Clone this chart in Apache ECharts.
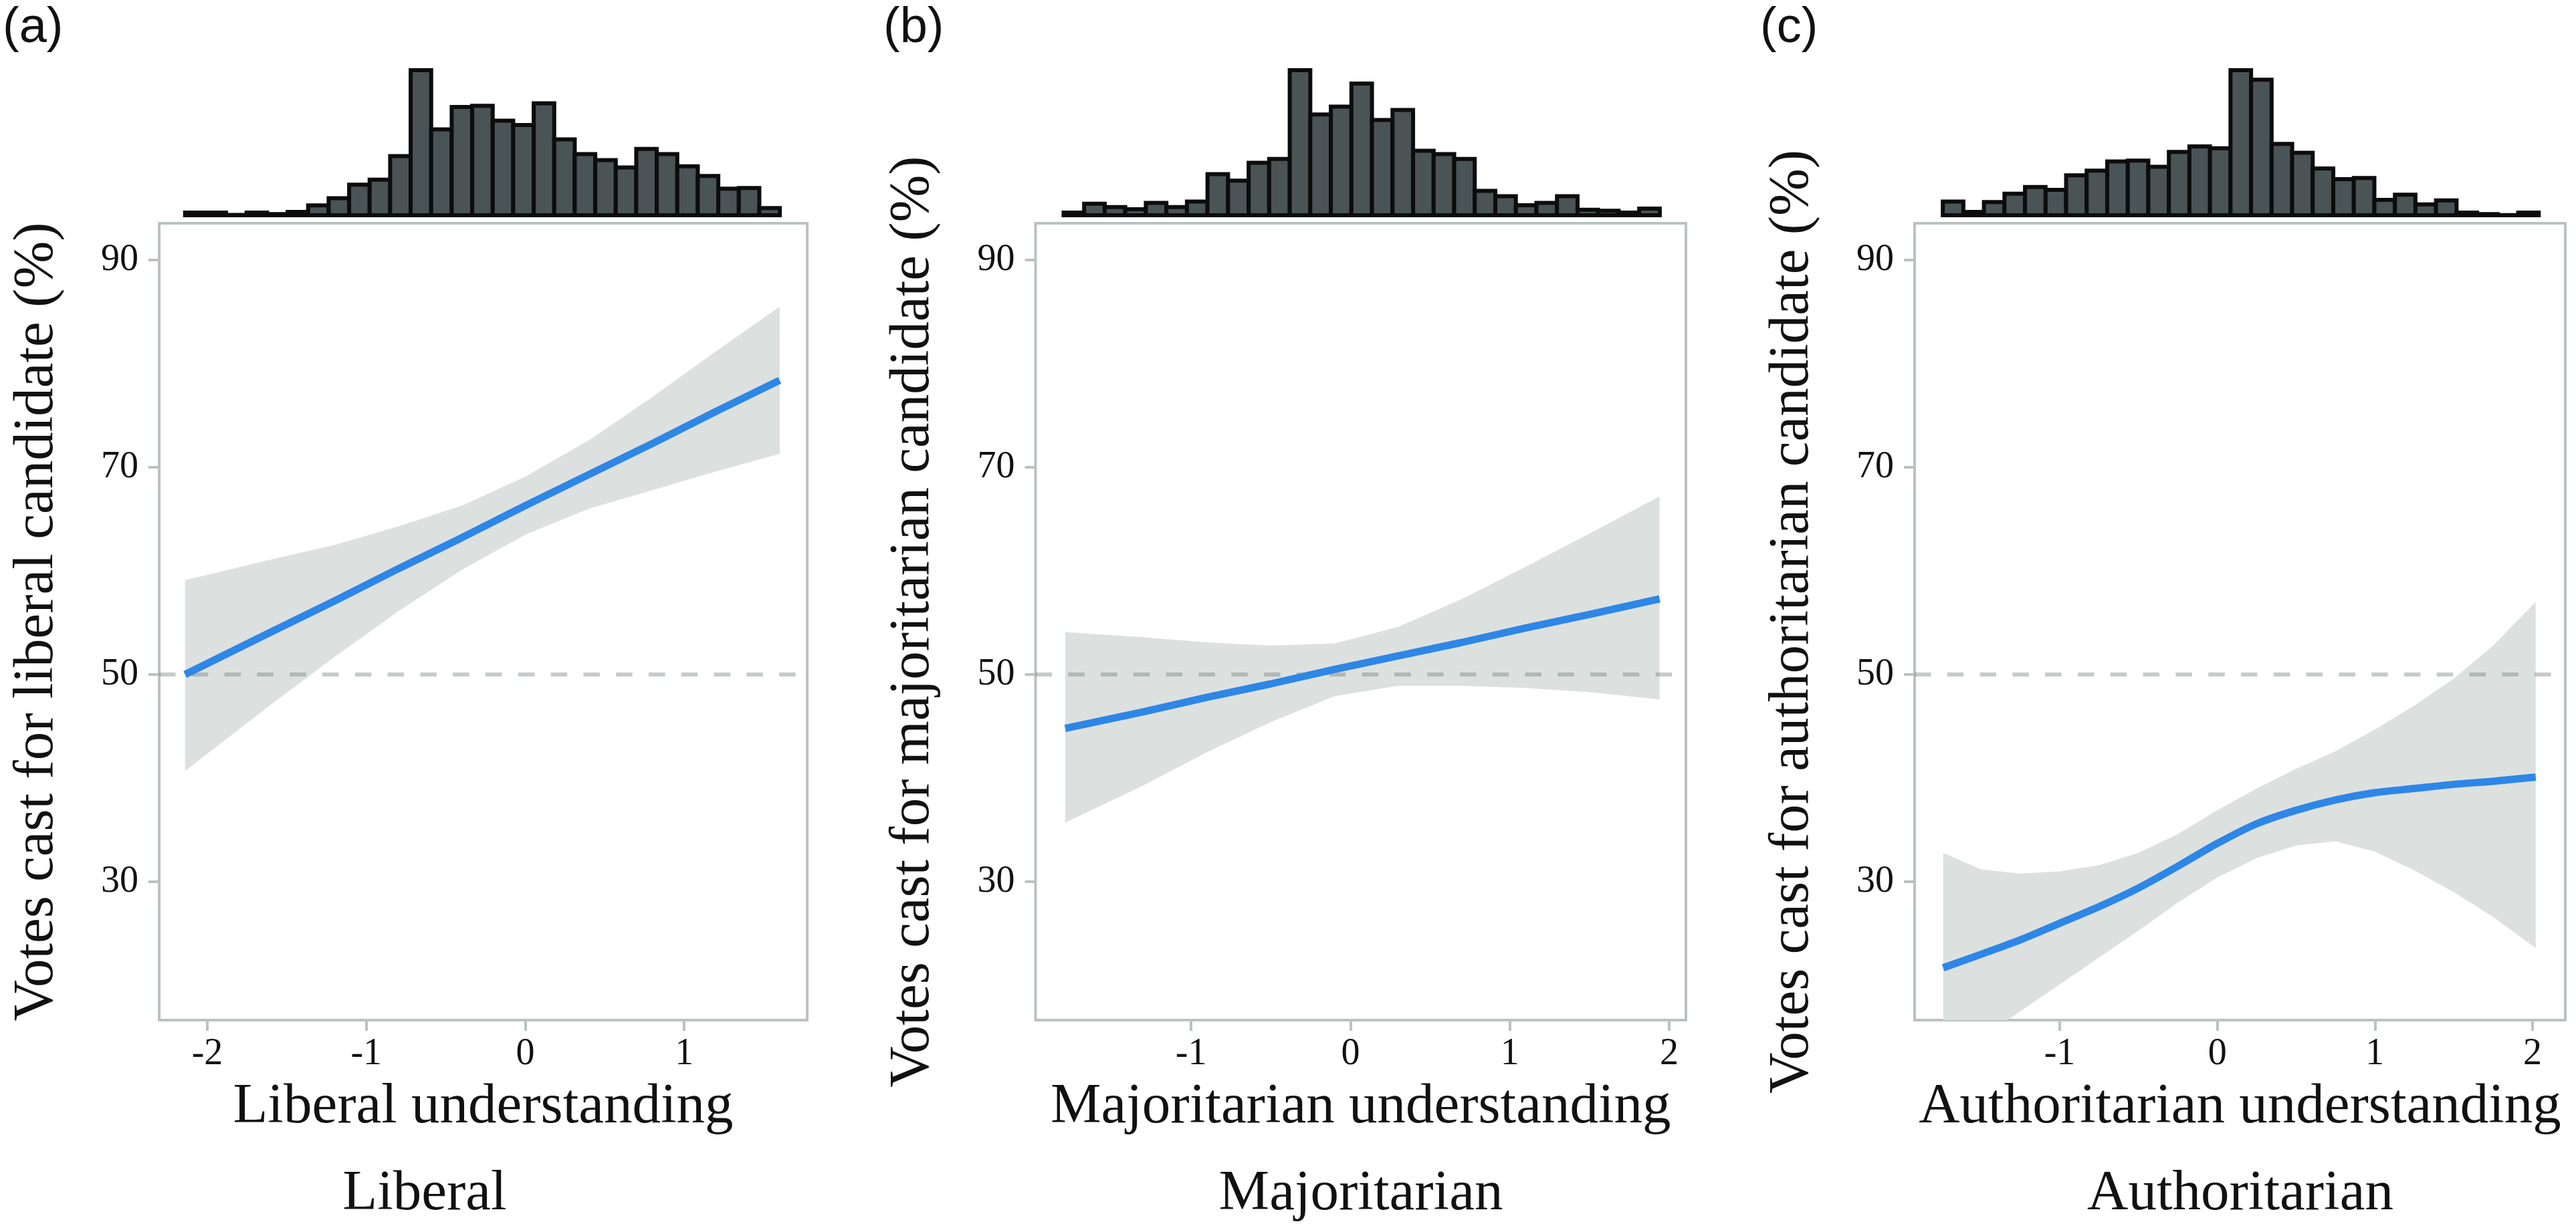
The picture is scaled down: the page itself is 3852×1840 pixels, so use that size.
<!DOCTYPE html>
<html lang="en">
  <head>
    <meta charset="UTF-8" />
    <title>Votes cast by understanding of democracy</title>
    <script src="https://cdn.jsdelivr.net/npm/echarts@6.0.0/dist/echarts.min.js"></script>
    <style>
      html, body { margin: 0; padding: 0; background: #fff; }
    </style>
  </head>
  <body>
    <div id="main" style="width: 3852px; height: 1840px"></div>

    <script>
      // fitted curves and confidence bands
      var xA = [-2.14, -1.6, -1.2, -0.8, -0.4, 0, 0.4, 0.8, 1.2, 1.6]
      var fitA = [50.0, 54.1, 57.1, 60.2, 63.2, 66.3, 69.3, 72.3, 75.4, 78.4]
      var lowA = [40.7, 47.1, 51.7, 56.1, 60.1, 63.5, 66.0, 67.8, 69.6, 71.3]
      var highA = [59.1, 61.1, 62.5, 64.3, 66.3, 69.1, 72.6, 76.8, 81.2, 85.5]

      var xB = [-1.79, -1.3, -0.9, -0.5, -0.1, 0.3, 0.7, 1.1, 1.5, 1.94]
      var fitB = [44.8, 46.4, 47.8, 49.1, 50.5, 51.8, 53.1, 54.5, 55.8, 57.3]
      var lowB = [35.7, 39.3, 42.5, 45.4, 47.9, 48.9, 48.9, 48.7, 48.3, 47.6]
      var highB = [54.1, 53.6, 53.1, 52.8, 53.0, 54.6, 57.3, 60.4, 63.6, 67.2]

      var xC = [-1.74, -1.5, -1.25, -1.0, -0.75, -0.5, -0.25, 0, 0.25, 0.5, 0.75, 1.0, 1.25, 1.5, 1.75, 2.02]
      var fitC = [21.7, 23.0, 24.4, 26.0, 27.6, 29.4, 31.5, 33.7, 35.6, 36.9, 37.9, 38.6, 39.0, 39.4, 39.7, 40.1]
      var lowC = [12.4, 14.9, 17.5, 20.1, 22.7, 25.3, 28.0, 30.4, 32.3, 33.5, 33.9, 32.9, 31.1, 29.0, 26.6, 23.6]
      var highC = [32.8, 31.2, 30.8, 31.0, 31.6, 32.8, 34.6, 36.9, 39.0, 40.9, 42.6, 44.7, 47.0, 49.6, 52.8, 57.0]

      // histograms on top (relative heights, tallest bar = 100)
      var countsA = [1.8, 1.8, 0.2, 1.8, 0.8, 2.3, 6.8, 11.8, 21.1, 24.5, 40.8, 100, 59.2, 74.6, 75.5,
        65.2, 62.2, 77.2, 52.3, 42.2, 38.0, 32.9, 45.7, 42.2, 33.8, 27.1, 18.3, 18.8, 4.9]
      var countsB = [1.8, 8.0, 5.7, 4.2, 8.5, 5.7, 9.5, 28.3, 23.8, 36.2, 38.8, 100, 69.5, 74.9, 90.8,
        65.7, 72.6, 44.5, 42.2, 38.8, 16.8, 13.1, 6.9, 8.5, 13.1, 3.8, 3.1, 1.8, 4.6]
      var countsC = [9.5, 2.3, 9.1, 14.9, 19.5, 17.5, 27.5, 30.8, 37.1, 37.7, 33.4, 43.7, 47.5, 46.2, 100,
        93.4, 49.2, 43.1, 32.3, 24.9, 25.7, 10.6, 14.2, 7.5, 10.3, 1.8, 0.8, 0.1, 1.8]
      var binStart = [-2.14, -1.80, -1.742]
      var binWidth = [0.129, 0.129, 0.1304]

      // axis ranges and ticks
      var xMin = [-2.303, -1.976, -1.921]
      var xMax = [1.773, 2.105, 2.208]
      var xTicks = [[-2, -1, 0, 1], [-1, 0, 1, 2], [-1, 0, 1, 2]]
      var yMin = 16.65
      var yMax = 93.55
      var yTicks = [30, 50, 70, 90]
      var refLine = 50

      var panelTags = ["(a)", "(b)", "(c)"]
      var xNames = ["Liberal understanding", "Majoritarian understanding", "Authoritarian understanding"]
      var yNames = [
        "Votes cast for liberal candidate (%)",
        "Votes cast for majoritarian candidate (%)",
        "Votes cast for authoritarian candidate (%)",
      ]
      var captions = ["Liberal", "Majoritarian", "Authoritarian"]

      var chart = echarts.init(document.getElementById("main"))

      var serif = "Liberation Serif"
      var frame = "#b9c3c0"
      var ink = "#111111"
      var gridLeft = [238, 1548.5, 2863]
      var gridWidth = [969, 972.5, 973]

      var grids = []
      var xAxes = []
      var yAxes = []
      var series = []

      function bandRender(xs, lo, hi) {
        return function (params, api) {
          if (params.dataIndex !== 0) return
          var pts = []
          for (var i = 0; i < xs.length; i++) pts.push(api.coord([xs[i], hi[i]]))
          for (var j = xs.length - 1; j >= 0; j--) pts.push(api.coord([xs[j], lo[j]]))
          return { type: "polygon", shape: { points: pts }, style: { fill: "#dce1e0" } }
        }
      }

      function histRender(params, api) {
        var p0 = api.coord([api.value(0), api.value(2)])
        var p1 = api.coord([api.value(1), 0])
        return {
          type: "rect",
          shape: { x: p0[0], y: p0[1], width: p1[0] - p0[0], height: p1[1] - p0[1] },
          style: { fill: "#4a5356", stroke: "#0c0c0c", lineWidth: 6 },
        }
      }

      var panels = [
        [xA, fitA, lowA, highA, countsA],
        [xB, fitB, lowB, highB, countsB],
        [xC, fitC, lowC, highC, countsC],
      ]

      for (let k = 0; k < 3; k++) {
        let xs = panels[k][0], fit = panels[k][1], lo = panels[k][2], hi = panels[k][3], counts = panels[k][4]

        // main plot
        grids.push({
          left: gridLeft[k], top: 334, width: gridWidth[k], height: 1192,
          show: true, borderColor: frame, borderWidth: 4, backgroundColor: "transparent",
        })
        // histogram strip
        grids.push({ left: gridLeft[k], top: 105, width: gridWidth[k], height: 217 })

        xAxes.push({
          type: "value", gridIndex: 2 * k, min: xMin[k], max: xMax[k],
          axisLine: { show: false, onZero: false },
          axisTick: { show: true, length: 16, customValues: xTicks[k], lineStyle: { color: frame, width: 4 } },
          axisLabel: { customValues: xTicks[k], margin: 23, fontFamily: serif, fontSize: 56, color: ink },
          splitLine: { show: false },
          name: xNames[k], nameLocation: "middle", nameGap: 88,
          nameTextStyle: { fontFamily: serif, fontSize: 85, color: ink },
        })
        xAxes.push({ type: "value", gridIndex: 2 * k + 1, min: xMin[k], max: xMax[k], show: false })

        yAxes.push({
          type: "value", gridIndex: 2 * k, min: yMin, max: yMax, position: "left",
          axisLine: { show: false, onZero: false },
          axisTick: { show: true, length: 16, customValues: yTicks, lineStyle: { color: frame, width: 4 } },
          axisLabel: { customValues: yTicks, margin: 31, fontFamily: serif, fontSize: 56, color: ink },
          splitLine: { show: false },
          name: yNames[k], nameLocation: "middle", nameGap: 140, nameRotate: 90,
          nameTextStyle: { fontFamily: serif, fontSize: 85, color: ink },
        })
        yAxes.push({ type: "value", gridIndex: 2 * k + 1, min: 0, max: 100, show: false })

        // confidence band
        series.push({
          type: "custom", xAxisIndex: 2 * k, yAxisIndex: 2 * k, clip: true, z: 1, silent: true,
          renderItem: bandRender(xs, lo, hi),
          data: xs.map(function (x, i) { return [x, lo[i], hi[i]] }),
          encode: { x: 0, y: [1, 2] },
        })
        // 50% reference line
        series.push({
          type: "line", xAxisIndex: 2 * k, yAxisIndex: 2 * k, z: 2, silent: true, symbol: "none",
          data: [[xMin[k], refLine], [xMax[k], refLine]],
          lineStyle: { color: "rgba(100,118,112,0.37)", width: 6, type: [24.5, 24.3] },
        })
        // fitted line
        series.push({
          type: "line", xAxisIndex: 2 * k, yAxisIndex: 2 * k, z: 3, silent: true, symbol: "none",
          smooth: k === 2 ? 0.3 : false,
          data: xs.map(function (x, i) { return [x, fit[i]] }),
          lineStyle: { color: "#2e86e6", width: 11, cap: "butt" },
        })
        // histogram
        series.push({
          type: "custom", xAxisIndex: 2 * k + 1, yAxisIndex: 2 * k + 1, z: 2, silent: true,
          renderItem: histRender,
          data: counts.map(function (c, i) {
            return [binStart[k] + i * binWidth[k], binStart[k] + (i + 1) * binWidth[k], c]
          }),
          encode: { x: [0, 1], y: 2 },
        })
      }

      var tagX = [4, 1321, 2632]
      var captionX = [635, 2035, 3350]
      var graphics = []
      for (let k = 0; k < 3; k++) {
        graphics.push({
          type: "text", left: tagX[k], top: 6,
          style: { text: panelTags[k], font: "74px 'Liberation Sans'", fill: ink },
        })
        graphics.push({
          type: "text", x: captionX[k], y: 1787,
          style: {
            text: captions[k], font: "85px '" + serif + "'", fill: ink,
            textAlign: "center", textVerticalAlign: "middle",
          },
        })
      }

      var option = {
        backgroundColor: "#ffffff",
        animation: false,
        grid: grids,
        xAxis: xAxes,
        yAxis: yAxes,
        series: series,
        graphic: graphics,
      }

      chart.setOption(option)
    </script>
  </body>
</html>
